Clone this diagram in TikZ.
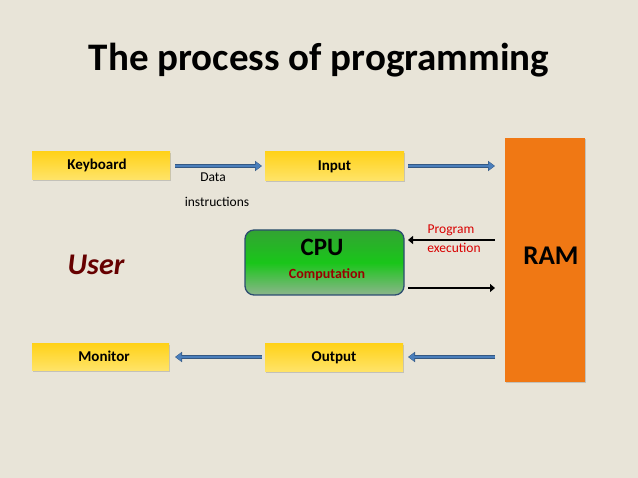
\documentclass[tikz,border=0pt]{standalone}
\usepackage{fontspec}
\setmainfont{Carlito}
\usetikzlibrary{arrows.meta,shadows}
\definecolor{bg}{HTML}{E8E4D8}
\definecolor{ybox}{HTML}{FFD21A}
\definecolor{ybot}{HTML}{FFE46A}
\definecolor{barrow}{HTML}{4A7EBB}
\definecolor{ram}{HTML}{F07814}
\tikzset{
 ybox/.style={draw=none,top color=ybox,bottom color=ybot,drop shadow={shadow xshift=1pt,shadow yshift=-1.5pt,opacity=0.35},font=\fontsize{15}{17}\selectfont\bfseries},
 barr/.style={draw=barrow!70!black,line width=4pt,-{Triangle[length=7pt,width=10pt]},
   postaction={draw=barrow,line width=2.4pt,-{Triangle[length=5.5pt,width=8pt]},shorten >=0.8pt}},
 karr/.style={draw=black,line width=2.6pt,-{Triangle[length=5pt,width=8pt]}},
 small/.style={font=\fontsize{13.5}{16}\selectfont}
}
\begin{document}
\begin{tikzpicture}[x=1pt,y=-1pt]
\fill[bg] (0,0) rectangle (638,478);
\useasboundingbox (0,0) rectangle (638,478);
\node[font=\fontsize{39}{44}\selectfont\bfseries] (title) at (319,60) {The process of programming};
\node[ybox,minimum width=138pt,minimum height=28pt] (kb) at (101,166) {};
\node[font=\fontsize{15}{17}\selectfont\bfseries] at (97,165) {Keyboard};
\node[ybox,minimum width=139pt,minimum height=29pt] (in) at (334.5,166.5) {Input};
\node[ybox,minimum width=137pt,minimum height=27pt] (mon) at (100.5,357.5) {};
\node[font=\fontsize{15}{17}\selectfont\bfseries] at (104,356) {Monitor};
\node[ybox,minimum width=138pt,minimum height=28pt] (out) at (334,358) {Output};
\node[draw=barrow!60!black,line width=1.3pt,rounded corners=9pt,minimum width=159pt,minimum height=65pt,
  top color=green!55!black!80,bottom color=green!35!black!45,middle color=green!75!black!90] (cpu) at (324.5,262.5) {};
\node[font=\fontsize{25}{30}\selectfont\bfseries] at (322,247) {CPU};
\node[font=\fontsize{14}{16}\selectfont\bfseries,text=red!60!black] at (327,275) {Computation};
\node[fill=ram,minimum width=80pt,minimum height=244pt,drop shadow={shadow xshift=1pt,shadow yshift=-1.5pt,opacity=0.35}] (ram) at (545,260) {};
\node[font=\fontsize{27}{32}\selectfont\bfseries] at (551,256) {RAM};
\node[font=\fontsize{30}{34}\selectfont\bfseries\itshape,text=red!40!black] (user) at (96,265) {User};
\node[small] (data) at (213,177) {Data};
\node[small] (instr) at (217,202) {instructions};
\node[small,text=red!85!black] (prog) at (451,230) {Program};
\node[small,text=red!85!black] (exec) at (454,248) {execution};
\coordinate (a1) at (175,166); \coordinate (a2) at (262,166);
\coordinate (b1) at (408,166); \coordinate (b2) at (495,166);
\coordinate (c1) at (495,357); \coordinate (c2) at (408,357);
\coordinate (d1) at (262,357); \coordinate (d2) at (175,357);
\coordinate (e1) at (495,240); \coordinate (e2) at (408,240);
\coordinate (f1) at (408,288); \coordinate (f2) at (495,288);
\draw[barr] (a1) -- (a2);
\draw[barr] (b1) -- (b2);
\draw[barr] (c1) -- (c2);
\draw[barr] (d1) -- (d2);
\draw[karr] (e1) -- (e2);
\draw[karr] (f1) -- (f2);
\end{tikzpicture}
\end{document}
